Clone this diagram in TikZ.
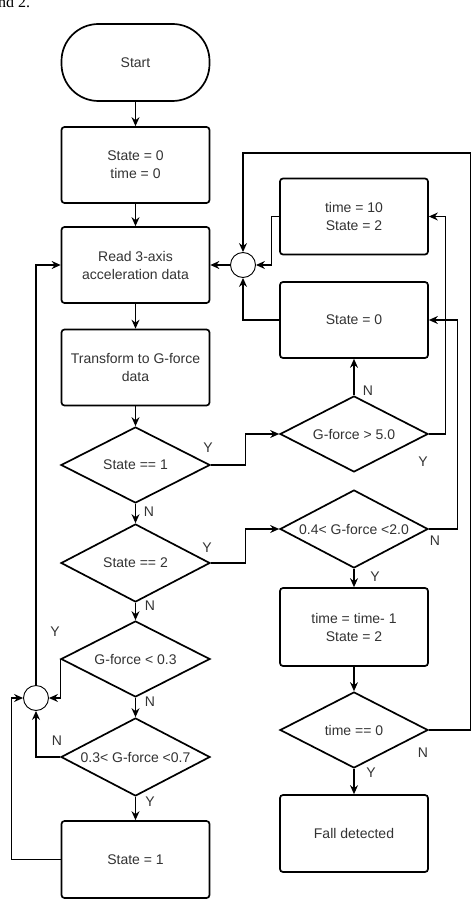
\documentclass[tikz,border=0pt]{standalone}
\usepackage{fontspec}
\setmainfont{Liberation Sans}
\newfontfamily\capserif{Liberation Serif}
\usetikzlibrary{shapes.geometric,arrows.meta}
\newcommand\dfont{\fontsize{14}{18}\selectfont}
\begin{document}
\begin{tikzpicture}[x=1pt,y=-1pt,
  txt/.style={text=black!80, font=\dfont},
  box/.style={draw, line width=1.7pt, rounded corners=3pt, minimum width=148pt, minimum height=76pt, align=center, inner sep=0pt, txt},
  term/.style={box, rounded corners=37pt, minimum height=77pt},
  dec/.style={draw, line width=1.7pt, diamond, minimum width=149pt, minimum height=76pt, inner sep=0pt},
  junc/.style={draw, circle, line width=0.9pt, minimum size=25pt, inner sep=0pt},
  arr/.style={line width=1.1pt, -{Stealth[length=9pt,width=8pt,inset=3pt]}},
  con/.style={line width=1.1pt},
  lab/.style={txt, inner sep=0pt},
  every label/.style={txt}]
\useasboundingbox (0,0) rectangle (474,901);
\fill[white] (0,0) rectangle (474,901);
\node[anchor=base west, inner sep=0pt, font=\capserif\fontsize{16}{18}\selectfont] (cap) at (-2,8) {nd 2.};
% left column
\node[term] (start) at (135.5,62.5) {Start};
\node[box] (b1) at (135.5,165) {State = 0\\time = 0};
\node[box] (read) at (135.5,265) {Read 3-axis\\acceleration data};
\node[box] (trans) at (135.5,367.5) {Transform to G-force\\data};
\node[dec, label={center:State == 1}] (d1) at (135.5,465) {};
\node[dec, minimum height=78pt, label={center:State == 2}] (d2) at (135.5,563) {};
\node[dec, label={center:G-force < 0.3}] (d3) at (135.5,659) {};
\node[dec, minimum height=78pt, label={center:0.3< G-force <0.7}] (d4) at (135.5,757) {};
\node[box, minimum height=77pt] (s1) at (135.5,859.5) {State = 1};
\node[junc] (cL) at (36,698) {};
% right column
\node[junc] (cR) at (243,265) {};
\node[box] (t10) at (354,216.5) {time = 10\\State = 2};
\node[box] (s0) at (354,320) {State = 0};
\node[dec, minimum width=148pt, label={center:G-force > 5.0}] (g5) at (354,434) {};
\node[dec, minimum width=148pt, minimum height=78pt, label={center:0.4< G-force <2.0}] (g4) at (354,529) {};
\node[box, minimum height=78pt] (tm) at (354,627) {time = time- 1\\State = 2};
\node[dec, minimum width=148pt, label={center:time == 0}] (t0) at (354,730) {};
\node[box, minimum height=77pt] (fall) at (354,833.5) {Fall detected};
% main flow
\draw[arr] (start.south) -- (b1.north);
\draw[arr] (b1.south) -- (read.north);
\draw[arr] (read.south) -- (trans.north);
\draw[arr] (trans.south) -- (d1.north);
\draw[arr] (d1.south) -- (d2.north);
\draw[arr] (d2.south) -- (d3.north);
\draw[arr] (d3.south) -- (d4.north);
\draw[arr] (d4.south) -- (s1.north);
% left loop
\draw[arr] (d3.west) |- (cL.east);
\draw[arr] (d4.west) -| (cL.south);
\draw[arr] (s1.west) -- ++(-49,0) |- (cL.west);
\draw[arr] (cL.north) |- (read.west);
% to right column
\draw[arr] (d1.east) -- ++(35,0) |- (g5.west);
\draw[arr] (d2.east) -- ++(35,0) |- (g4.west);
\draw[arr] (g5.north) -- (s0.south);
\draw[arr] (g5.east) -- ++(17,0) |- (t10.east);
\draw[arr] (g4.east) -- ++(29,0) |- (s0.east);
\draw[arr] (g4.south) -- (tm.north);
\draw[arr] (tm.south) -- (t0.north);
\draw[arr] (t0.south) -- (fall.north);
\draw[arr] (t0.east) -- ++(42,0) -- ++(0,-577) -| (cR.north);
\draw[arr] (s0.west) -| (cR.south);
\draw[arr] (t10.west) -- ++(-8,0) |- (cR.east);
\draw[arr] (cR.west) -- (read.east);
% branch labels
\node[lab] (l1) at (149,512) {N};
\node[lab] (l2) at (150,606) {N};
\node[lab] (l3) at (55,632) {Y};
\node[lab] (l4) at (150,702) {N};
\node[lab] (l5) at (57,741) {N};
\node[lab] (l6) at (150,802) {Y};
\node[lab] (l7) at (208,448) {Y};
\node[lab] (l8) at (207,548) {Y};
\node[lab] (l9) at (368,391) {N};
\node[lab] (l10) at (423,462) {Y};
\node[lab] (l11) at (435,541) {N};
\node[lab] (l12) at (375,577) {Y};
\node[lab] (l13) at (423,753) {N};
\node[lab] (l14) at (371,773) {Y};
\end{tikzpicture}
\end{document}
